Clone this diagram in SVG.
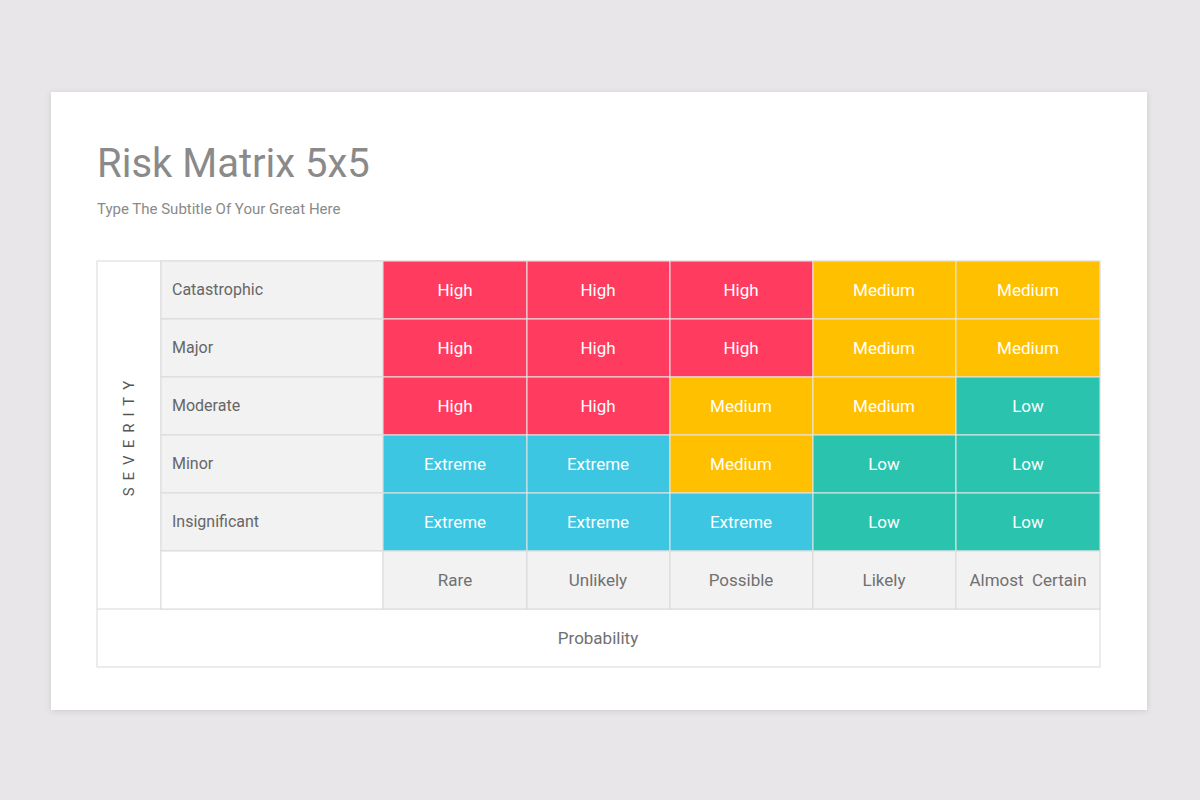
<svg xmlns="http://www.w3.org/2000/svg" width="1200" height="800" viewBox="0 0 1200 800">
<defs>
<filter id="sh" x="-5%" y="-5%" width="110%" height="110%"><feDropShadow dx="0" dy="1" stdDeviation="3" flood-color="#000" flood-opacity="0.12"/></filter>
<style>
text{font-family:Roboto,"Liberation Sans",sans-serif}
.lbl{fill:#f2f2f2;stroke:#d9d9d9;stroke-width:1}
.lt{font-size:16px;fill:#666}
.ct{font-size:17px;fill:#fff;text-anchor:middle}
.pt{font-size:17px;fill:#707070;text-anchor:middle}
.H{fill:#ff3c5f}.M{fill:#ffc000}.L{fill:#2ac3ad}.E{fill:#3cc6e1}
.c{stroke:#e6e6e6;stroke-width:1}
</style>
</defs>
<rect width="1200" height="800" fill="#e8e6e8"/>
<rect x="51" y="92" width="1096" height="618" fill="#fff" filter="url(#sh)"/>
<text x="97" y="177" font-size="40" fill="#8a8a8a">Risk Matrix 5x5</text>
<text x="97" y="214" font-size="15" fill="#8a8a8a">Type The Subtitle Of Your Great Here</text>
<g id="frame">
<rect x="97" y="261" width="1003" height="406" fill="#fff" stroke="#d9d9d9"/>
<line x1="161" y1="261" x2="161" y2="609" stroke="#d9d9d9"/>
<line x1="97" y1="609" x2="1100" y2="609" stroke="#d9d9d9"/>
<text transform="translate(134 435) rotate(-90)" font-size="15" fill="#555" text-anchor="middle" letter-spacing="7">SEVERITY</text>
<text x="598" y="644" class="pt">Probability</text>
</g>
<g id="labels">
<rect class="lbl" x="161" y="261" width="222" height="58"/><text class="lt" x="172" y="295">Catastrophic</text>
<rect class="lbl" x="161" y="319" width="222" height="58"/><text class="lt" x="172" y="353">Major</text>
<rect class="lbl" x="161" y="377" width="222" height="58"/><text class="lt" x="172" y="411">Moderate</text>
<rect class="lbl" x="161" y="435" width="222" height="58"/><text class="lt" x="172" y="469">Minor</text>
<rect class="lbl" x="161" y="493" width="222" height="58"/><text class="lt" x="172" y="527">Insignificant</text>
<rect x="161" y="551" width="222" height="58" fill="#fff" stroke="#d9d9d9"/>
</g>
<g id="cells">
<rect class="H c" x="383" y="261" width="144" height="58"/><text class="ct" x="455" y="296">High</text>
<rect class="H c" x="527" y="261" width="143" height="58"/><text class="ct" x="598" y="296">High</text>
<rect class="H c" x="670" y="261" width="143" height="58"/><text class="ct" x="741" y="296">High</text>
<rect class="M c" x="813" y="261" width="143" height="58"/><text class="ct" x="884" y="296">Medium</text>
<rect class="M c" x="956" y="261" width="144" height="58"/><text class="ct" x="1028" y="296">Medium</text>
<rect class="H c" x="383" y="319" width="144" height="58"/><text class="ct" x="455" y="354">High</text>
<rect class="H c" x="527" y="319" width="143" height="58"/><text class="ct" x="598" y="354">High</text>
<rect class="H c" x="670" y="319" width="143" height="58"/><text class="ct" x="741" y="354">High</text>
<rect class="M c" x="813" y="319" width="143" height="58"/><text class="ct" x="884" y="354">Medium</text>
<rect class="M c" x="956" y="319" width="144" height="58"/><text class="ct" x="1028" y="354">Medium</text>
<rect class="H c" x="383" y="377" width="144" height="58"/><text class="ct" x="455" y="412">High</text>
<rect class="H c" x="527" y="377" width="143" height="58"/><text class="ct" x="598" y="412">High</text>
<rect class="M c" x="670" y="377" width="143" height="58"/><text class="ct" x="741" y="412">Medium</text>
<rect class="M c" x="813" y="377" width="143" height="58"/><text class="ct" x="884" y="412">Medium</text>
<rect class="L c" x="956" y="377" width="144" height="58"/><text class="ct" x="1028" y="412">Low</text>
<rect class="E c" x="383" y="435" width="144" height="58"/><text class="ct" x="455" y="470">Extreme</text>
<rect class="E c" x="527" y="435" width="143" height="58"/><text class="ct" x="598" y="470">Extreme</text>
<rect class="M c" x="670" y="435" width="143" height="58"/><text class="ct" x="741" y="470">Medium</text>
<rect class="L c" x="813" y="435" width="143" height="58"/><text class="ct" x="884" y="470">Low</text>
<rect class="L c" x="956" y="435" width="144" height="58"/><text class="ct" x="1028" y="470">Low</text>
<rect class="E c" x="383" y="493" width="144" height="58"/><text class="ct" x="455" y="528">Extreme</text>
<rect class="E c" x="527" y="493" width="143" height="58"/><text class="ct" x="598" y="528">Extreme</text>
<rect class="E c" x="670" y="493" width="143" height="58"/><text class="ct" x="741" y="528">Extreme</text>
<rect class="L c" x="813" y="493" width="143" height="58"/><text class="ct" x="884" y="528">Low</text>
<rect class="L c" x="956" y="493" width="144" height="58"/><text class="ct" x="1028" y="528">Low</text>
</g>
<g id="probability">
<rect class="lbl" x="383" y="551" width="144" height="58"/><text class="pt" x="455" y="586">Rare</text>
<rect class="lbl" x="527" y="551" width="143" height="58"/><text class="pt" x="598" y="586">Unlikely</text>
<rect class="lbl" x="670" y="551" width="143" height="58"/><text class="pt" x="741" y="586">Possible</text>
<rect class="lbl" x="813" y="551" width="143" height="58"/><text class="pt" x="884" y="586">Likely</text>
<rect class="lbl" x="956" y="551" width="144" height="58"/><text class="pt" x="1028" y="586" xml:space="preserve">Almost  Certain</text>
</g>
<g id="connectors"/>
</svg>
